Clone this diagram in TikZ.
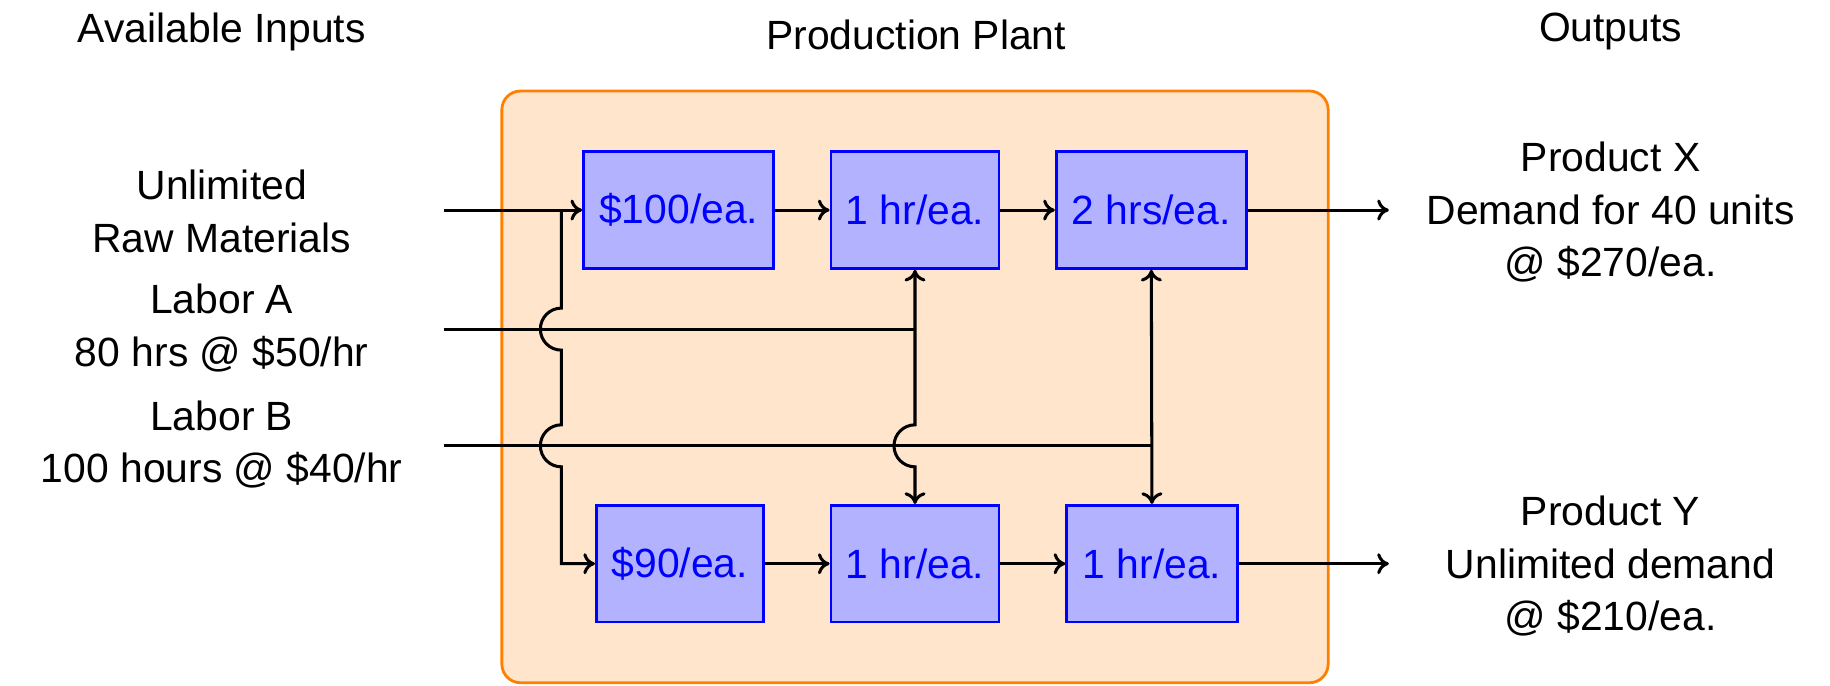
\documentclass[tikz,border=0pt]{standalone}
\usepackage{fontspec}
\setmainfont{Liberation Sans}
\usetikzlibrary{arrows.meta}
\begin{document}
\begin{tikzpicture}[x=0.5pt,y=-0.5pt,
  every node/.style={font=\fontsize{17.5}{22.5}\selectfont},
  box/.style={draw=blue,fill=blue!30,text=blue,line width=1.2pt,minimum height=50pt,inner sep=0pt},
  lbl/.style={align=center},
  tip/.tip={To[length=5pt,width=9pt,line width=1.3pt]},
  con/.style={line width=1.3pt,-tip},
  ln/.style={line width=1.3pt}]
\useasboundingbox (0,0) rectangle (1568,587);
\draw[orange,fill=orange!20,line width=1.2pt,rounded corners=8pt] (430,78) rectangle (1138,585);
\node[lbl] (t1) at (190,27) {Available Inputs};
\node[lbl] (t2) at (785,30) {Production Plant};
\node[lbl] (t3) at (1380,27) {Outputs};
\node[box,minimum width=81.5pt] (A1) at (581.5,180) {\$100/ea.};
\node[box,minimum width=72pt] (A2) at (784,180) {1 hr/ea.};
\node[box,minimum width=81.5pt] (A3) at (986.5,180) {2 hrs/ea.};
\node[box,minimum width=71.5pt] (B1) at (582.5,483) {\$90/ea.};
\node[box,minimum width=72pt] (B2) at (784,483) {1 hr/ea.};
\node[box,minimum width=73pt] (B3) at (987,483) {1 hr/ea.};
\node[lbl] (raw) at (190,181) {Unlimited\\Raw Materials};
\node[lbl] (la) at (190,281) {Labor A\\80 hrs @ \$50/hr};
\node[lbl] (lb) at (190,381) {Labor B\\100 hours @ \$40/hr};
\node[lbl] (px) at (1380,182) {Product X\\Demand for 40 units\\@ \$270/ea.};
\node[lbl] (py) at (1380,485) {Product Y\\Unlimited demand\\@ \$210/ea.};
\coordinate (rs) at (380,180);
\coordinate (las) at (380,282);
\coordinate (lae) at (784,282);
\coordinate (lbs) at (380,382);
\coordinate (lbe) at (987,382);
\coordinate (ox) at (1190,180);
\coordinate (oy) at (1190,483);
\draw[con] (rs) -- (A1.west);
\draw[con] (481,180) -- (481,264) arc[start angle=90,end angle=270,radius=9pt] -- (481,364) arc[start angle=90,end angle=270,radius=9pt] -- (481,483) -- (B1.west);
\draw[ln] (las) -- (lae);
\draw[ln] (lbs) -- (lbe);
\draw[con,tip-tip] (A2.south) -- (784,364) arc[start angle=90,end angle=270,radius=9pt] -- (B2.north);
\draw[con,tip-tip] (A3.south) -- (B3.north);
\draw[con] (A1) -- (A2);
\draw[con] (A2) -- (A3);
\draw[con] (B1) -- (B2);
\draw[con] (B2) -- (B3);
\draw[con] (A3.east) -- (ox);
\draw[con] (B3.east) -- (oy);
\end{tikzpicture}
\end{document}
